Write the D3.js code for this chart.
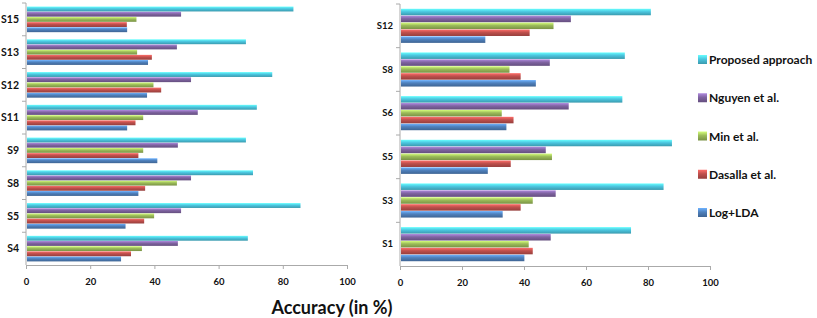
<!DOCTYPE html>
<html>
<head>
<meta charset="utf-8">
<script src="https://cdn.jsdelivr.net/npm/d3@7"></script>
<style>
  body { margin: 0; background: #fff; }
  svg { display: block; font-family: Lato, "Open Sans", sans-serif; }
</style>
</head>
<body>
<div id="chart"></div>
<script>
// series, bottom to top inside each group
const seriesNames = ["Log+LDA", "Dasalla et al.", "Min et al.", "Nguyen et al.", "Proposed approach"]
const seriesColors = ["#4f81bd", "#c0504d", "#9bbb59", "#8064a2", "#4bc6df"]

// left panel
const leftSubjects = ["S15", "S13", "S12", "S11", "S9", "S8", "S5", "S4"]
const leftLogLda   = [31.2, 37.7, 37.4, 31.2, 40.6, 34.7, 30.7, 29.3]
const leftDasalla  = [31.1, 38.9, 41.8, 33.8, 34.7, 36.8, 36.5, 32.4]
const leftMin      = [34.1, 34.3, 39.4, 36.2, 36.2, 46.7, 39.6, 35.8]
const leftNguyen   = [48.0, 46.7, 51.1, 53.2, 47.0, 51.1, 48.0, 47.0]
const leftProposed = [83.0, 68.2, 76.4, 71.6, 68.2, 70.4, 85.2, 68.8]

// right panel
const rightSubjects = ["S12", "S8", "S6", "S5", "S3", "S1"]
const rightLogLda   = [27.2, 43.5, 34.0, 28.0, 32.8, 39.8]
const rightDasalla  = [41.5, 38.6, 36.3, 35.4, 38.6, 42.5]
const rightMin      = [49.2, 35.0, 32.5, 48.7, 42.5, 41.2]
const rightNguyen   = [54.8, 48.0, 54.1, 46.7, 49.9, 48.3]
const rightProposed = [80.6, 72.2, 71.4, 87.4, 84.7, 74.2]

const xTicks = [0, 20, 40, 60, 80, 100]

const width = 817, height = 318

const svg = d3.select("#chart").append("svg")
  .attr("width", width).attr("height", height)

addGradients(svg)

drawPanel(svg, leftSubjects, [leftLogLda, leftDasalla, leftMin, leftNguyen, leftProposed],
  {x0: 26, x1: 347, y0: 3, y1: 265, labelSize: 10.5})
drawPanel(svg, rightSubjects, [rightLogLda, rightDasalla, rightMin, rightNguyen, rightProposed],
  {x0: 400, x1: 710, y0: 4, y1: 266, labelSize: 9.5})

addLegend(svg)

svg.append("text")
  .attr("x", 332).attr("y", 314)
  .attr("text-anchor", "middle")
  .attr("font-size", "18px").attr("font-weight", "bold")
  .attr("fill", "#111")
  .text("Accuracy (in %)")

function addGradients(svg){
  const defs = svg.append("defs")
  seriesColors.forEach((c, i) => {
    const g = defs.append("linearGradient").attr("id", "grad" + i)
      .attr("x1", 0).attr("y1", 0).attr("x2", 0).attr("y2", 1)
    g.append("stop").attr("offset", "0%").attr("stop-color", d3.color(c).brighter(0.9))
    g.append("stop").attr("offset", "45%").attr("stop-color", c)
    g.append("stop").attr("offset", "100%").attr("stop-color", d3.color(c).darker(0.7))
  })
}

function drawPanel(svg, subjects, series, box){
  const x = d3.scaleLinear().domain([0, 100]).range([box.x0, box.x1])
  const y = d3.scaleBand().domain(subjects).range([box.y0, box.y1]).paddingInner(0.2).paddingOuter(0.1)
  const yOuter = d3.scaleBand().domain(subjects).range([box.y0, box.y1])
  // inner scale: index 4 on top, 0 at bottom
  const yInner = d3.scaleBand().domain(d3.range(5).reverse()).range([0, y.bandwidth()]).padding(0.06)

  const rows = []
  subjects.forEach((s, i) => {
    series.forEach((vals, k) => rows.push({s: s, k: k, v: vals[i]}))
  })

  svg.append("g").selectAll("rect").data(rows).join("rect")
    .attr("x", x(0) + 1)
    .attr("y", d => y(d.s) + yInner(d.k))
    .attr("width", d => x(d.v) - x(0))
    .attr("height", yInner.bandwidth())
    .attr("fill", d => "url(#grad" + d.k + ")")

  // y axis with ticks between categories
  const yAx = svg.append("g")
  yAx.append("line")
    .attr("x1", box.x0).attr("x2", box.x0)
    .attr("y1", box.y0).attr("y2", box.y1)
    .attr("stroke", "#aaa")
  yAx.selectAll("line.tk").data(subjects).join("line").attr("class", "tk")
    .attr("x1", box.x0 - 4).attr("x2", box.x0)
    .attr("y1", d => yOuter(d)).attr("y2", d => yOuter(d))
    .attr("stroke", "#aaa")
  yAx.selectAll("text").data(subjects).join("text")
    .attr("x", box.x0 - 7)
    .attr("y", d => yOuter(d) + yOuter.bandwidth() / 2)
    .attr("dy", "0.35em")
    .attr("text-anchor", "end")
    .attr("font-size", box.labelSize + "px").attr("font-weight", "bold")
    .attr("fill", "#111")
    .text(d => d)

  // x axis
  const xAx = svg.append("g").attr("transform", `translate(0,${box.y1})`)
    .call(d3.axisBottom(x).tickValues(xTicks).tickSize(4).tickSizeOuter(0))
  xAx.select(".domain").attr("stroke", "#aaa")
  xAx.selectAll(".tick line").attr("stroke", "#aaa")
  xAx.selectAll(".tick text")
    .attr("dy", "1.4em")
    .attr("font-size", "9.5px").attr("font-weight", "bold")
    .attr("font-family", "Lato, sans-serif")
    .attr("fill", "#111")
}

function addLegend(svg){
  const order = d3.range(5).reverse()
  const ly = d3.scalePoint().domain(order).range([60, 213])
  const lg = svg.append("g").selectAll("g").data(order).join("g")
    .attr("transform", d => `translate(698,${ly(d)})`)
  lg.append("rect")
    .attr("x", 0).attr("y", -5).attr("width", 9).attr("height", 9)
    .attr("fill", d => "url(#grad" + d + ")")
  lg.append("text")
    .attr("x", 11).attr("dy", "0.35em")
    .attr("font-size", "12px").attr("font-weight", "bold")
    .attr("fill", "#111")
    .text(d => seriesNames[d])
}
</script>
</body>
</html>
